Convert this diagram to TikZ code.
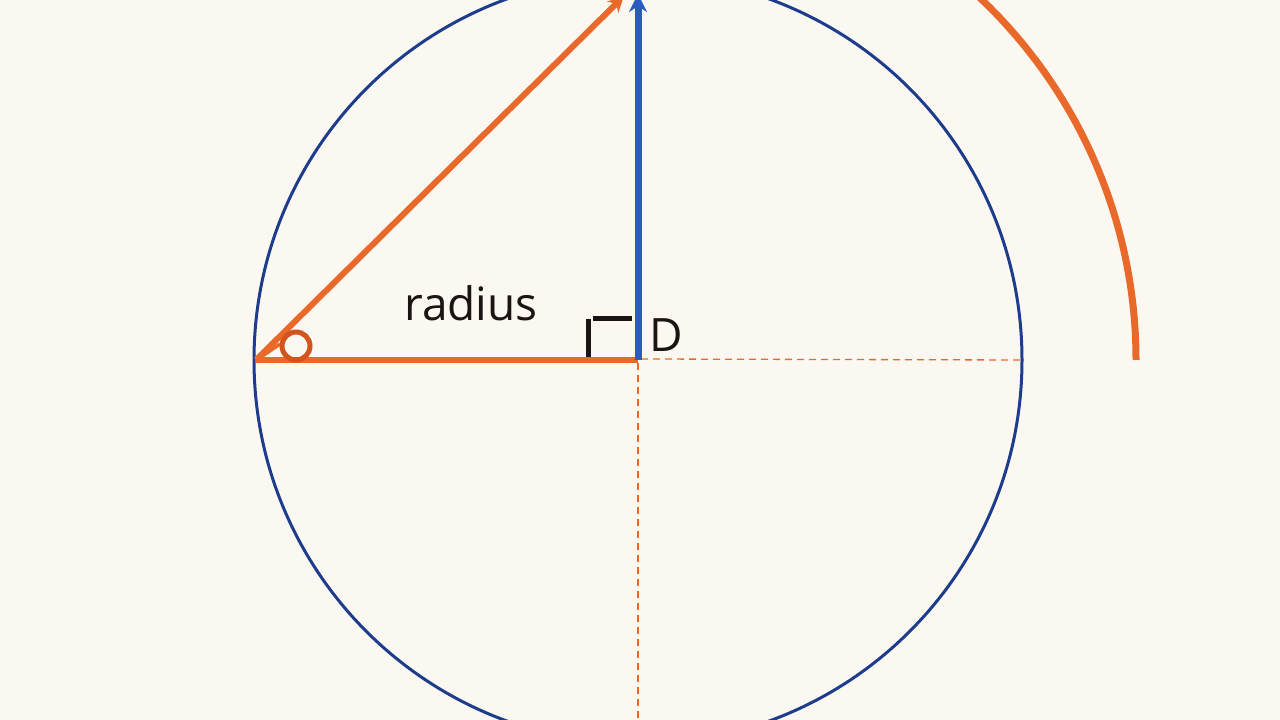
\documentclass[tikz,border=0pt]{standalone}
\usepackage{fontspec}
\setmainfont{Open Sans}
\usetikzlibrary{arrows.meta}
\definecolor{bg}{HTML}{FBF8F2}
\definecolor{circblue}{HTML}{1E3C8C}
\definecolor{arrblue}{HTML}{2A5CBE}
\definecolor{org}{HTML}{E8692A}
\definecolor{orgdark}{HTML}{D2551E}
\definecolor{ink}{HTML}{1A1512}
\tikzset{
  orangeline/.style={draw=org, line width=6pt},
  dashline/.style={draw=org, line width=1.3pt, dash pattern=on 7pt off 5pt},
  lbl/.style={text=ink, font=\fontsize{46}{46}\selectfont, inner sep=0pt}
}
\begin{document}
\begin{tikzpicture}[x=1pt,y=1pt]
\fill[bg] (0,0) rectangle (1280,720);
\useasboundingbox (0,0) rectangle (1280,720);
\begin{scope}
\clip (0,0) rectangle (1280,720);
\coordinate (O) at (638,360);
\coordinate (L) at (256,360);
\coordinate (T) at (624,724);
\coordinate (B) at (638,726);
\coordinate (R) at (1020,360);
\coordinate (Dn) at (638,0);
% dashed lines
\draw[dashline] (641,361) -- (R);
\draw[dashline] (638,357) -- (Dn);
% circle
\draw[circblue, line width=3pt] (O) circle (384);
% outer arc
\draw[org, line width=7pt] (1136,360) arc (0:60:498);
% horizontal radius
\draw[orangeline] (O) -- (L);
% hypotenuse with arrowhead
\draw[orangeline, -{Stealth[length=16pt,width=16pt]}] (L) -- (T);
% left small arrow tip
\draw[org, line width=3.5pt] (258,361) -- (280,376);
% blue vertical arrow
\draw[arrblue, line width=7pt, -{Stealth[length=18pt,width=18pt]}] (O) -- (B);
% angle circle
\draw[orgdark, line width=5pt] (296,374) circle (14);
% right angle mark
\draw[ink, line width=5pt] (588,363) -- (588,401);
\draw[ink, line width=5pt] (593,401) -- (632,401);
% labels
\node[lbl, anchor=center] (rad) at (471,417) {radius};
\node[lbl, anchor=center] (D) at (666,385) {D};
\end{scope}
\end{tikzpicture}
\end{document}
